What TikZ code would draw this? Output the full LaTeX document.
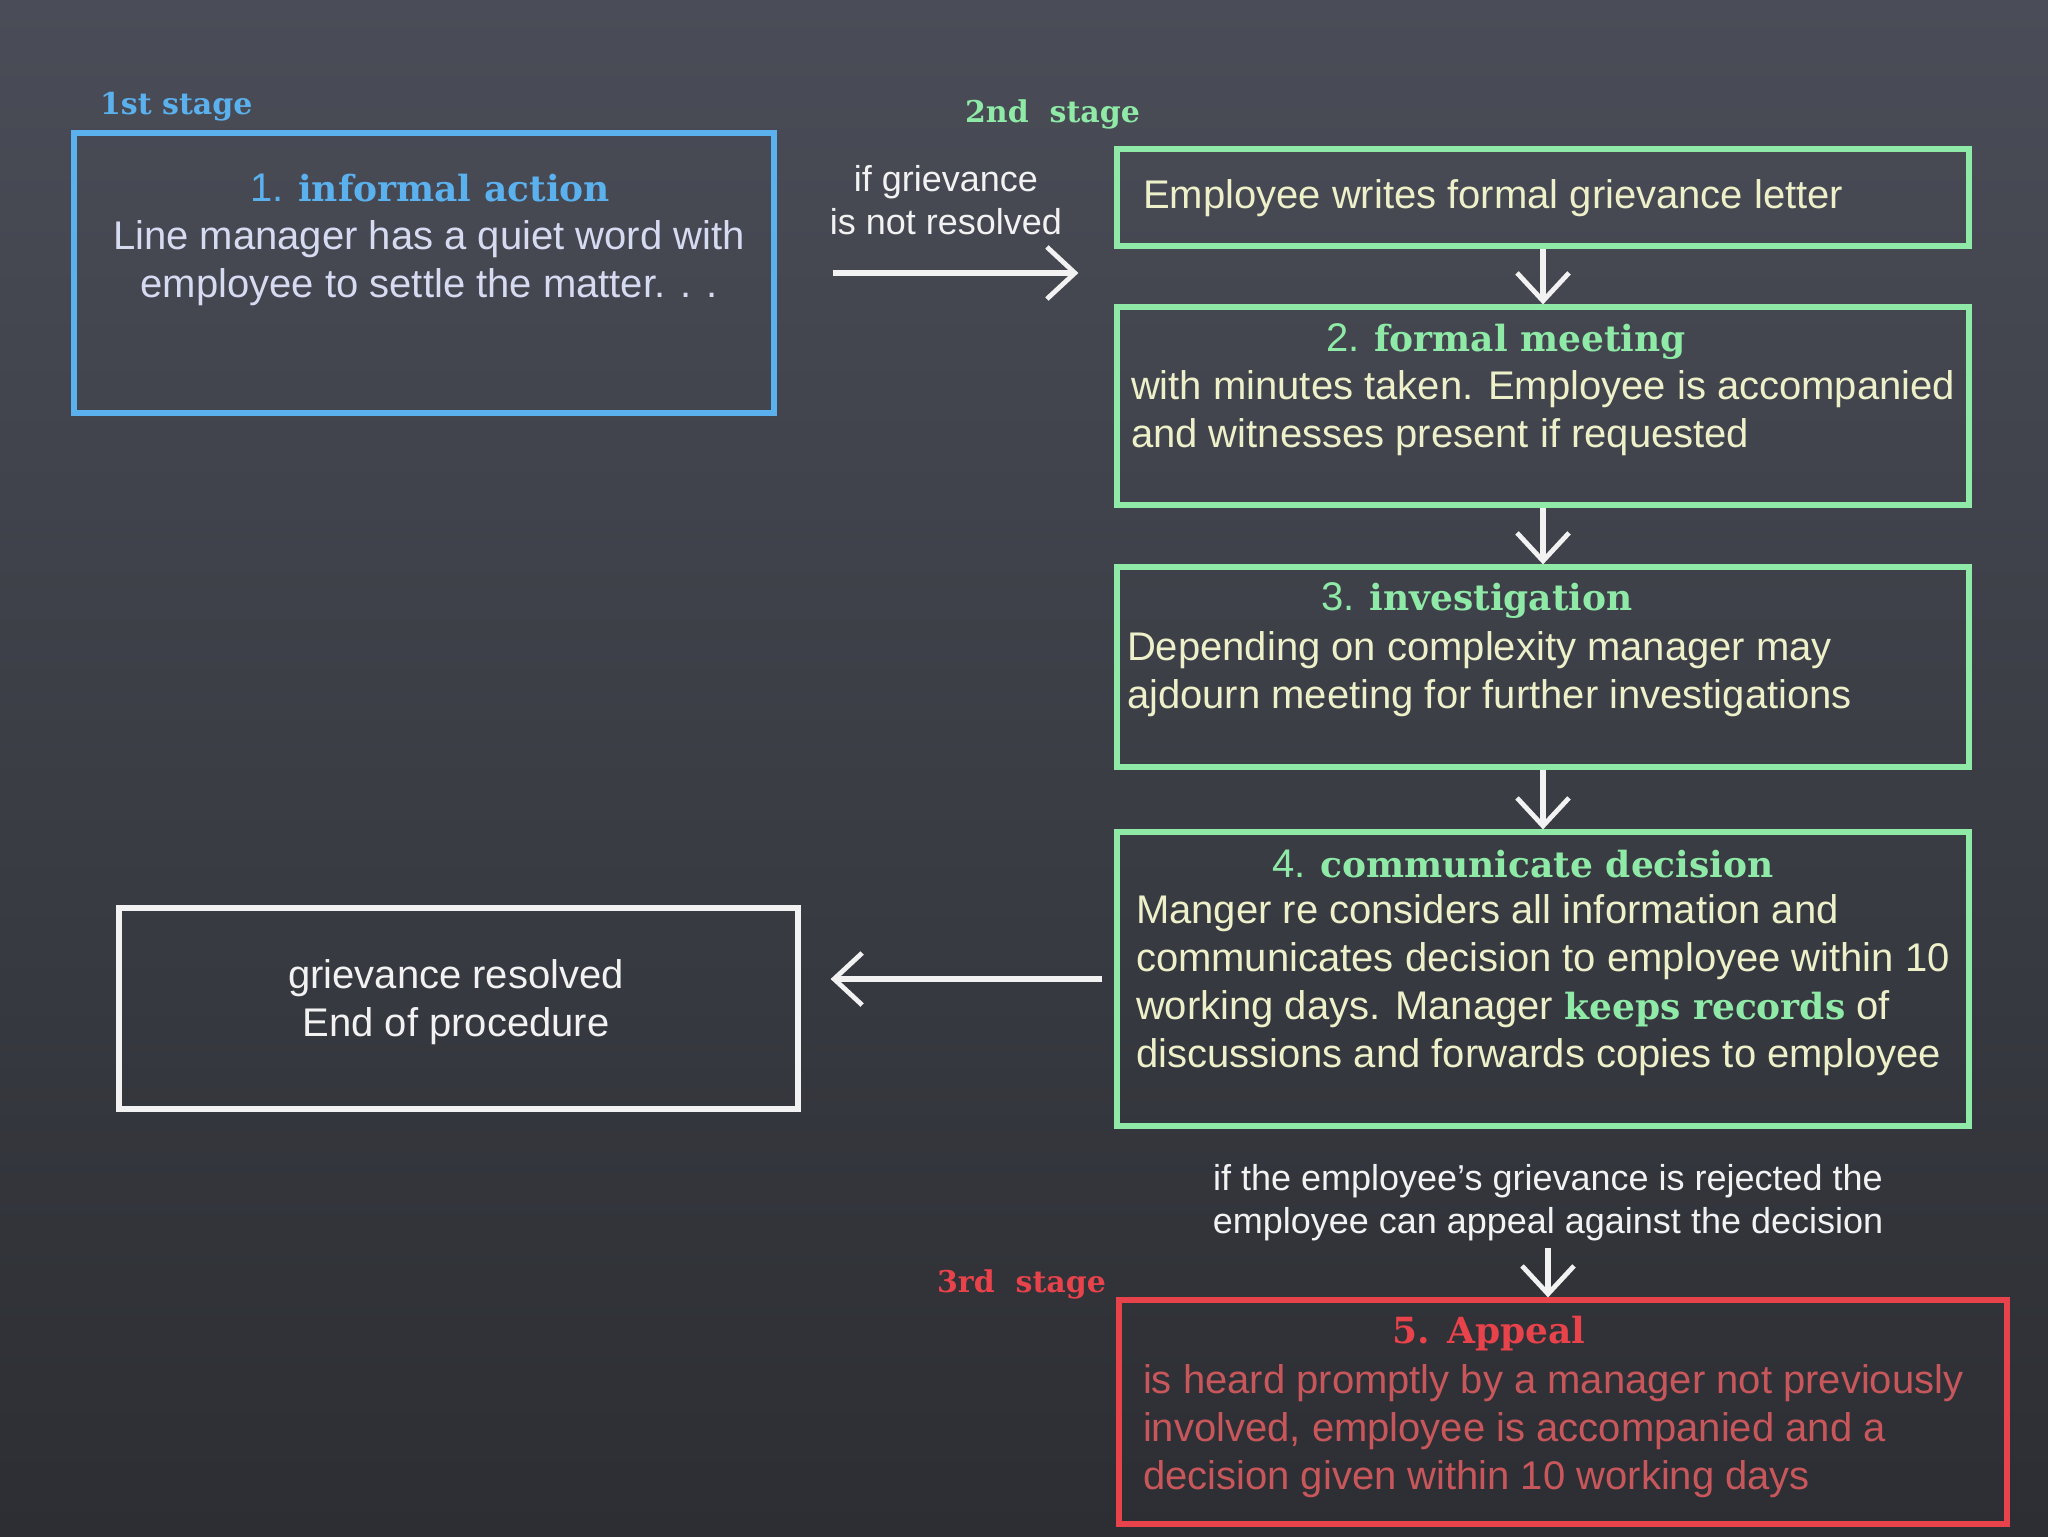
\documentclass[tikz,border=0pt]{standalone}
\usepackage{fontspec}
\setmainfont{Liberation Sans}
\newfontfamily\stagefont{DejaVu Serif}
\usetikzlibrary{arrows.meta, positioning, calc}
\usepackage{xcolor}
\definecolor{BoardTop}{HTML}{4A4D57}
\definecolor{BoardBottom}{HTML}{2C2E33}
\definecolor{ChalkWhite}{HTML}{F2F2F2}
\definecolor{ChalkBlue}{HTML}{5BB0EE}
\definecolor{ChalkBlueText}{HTML}{D6DBF2}
\definecolor{ChalkGreen}{HTML}{8EEAA6}
\definecolor{ChalkGreenText}{HTML}{EDF0C8}
\definecolor{ChalkRed}{HTML}{E8424B}
\definecolor{ChalkRedText}{HTML}{C8575B}
\tikzset{
    % Chalk boxes - all sharp corners
    stagebox/.style={
        rectangle,
        line width=2.6pt,
        inner sep=0pt
    },
    bluebox/.style={stagebox, draw=ChalkBlue},
    greenbox/.style={stagebox, draw=ChalkGreen},
    redbox/.style={stagebox, draw=ChalkRed},
    whitebox/.style={stagebox, draw=ChalkWhite},
    % Texts
    stagelabel/.style={
        anchor=west,
        font=\stagefont\bfseries\fontsize{15}{18}\selectfont
    },
    titletext/.style={
        font=\fontsize{20}{24}\selectfont
    },
    bodytext/.style={
        font=\fontsize{20}{24}\selectfont,
        align=left,
        anchor=west
    },
    notetext/.style={
        font=\fontsize{18}{21.5}\selectfont,
        text=ChalkWhite,
        align=center
    },
    % Chalk arrows
    chalkarrow/.style={
        -{Straight Barb[length=14pt,width=26pt,line width=2.4pt]},
        line width=2.6pt,
        draw=ChalkWhite
    }
}
\newcommand{\serifpart}[1]{{\stagefont\bfseries\fontsize{18}{20}\selectfont #1}}

\begin{document}
\begin{tikzpicture}[x=0.5pt, y=-0.5pt]
    \fill[top color=BoardTop, bottom color=BoardBottom] (0,0) rectangle (2048,1536);

    % 1st stage
    \node[stagelabel, text=ChalkBlue] (stageone) at (93,107) {1st stage};
    \node[bluebox, minimum width=350pt, minimum height=140pt] (informal) at (424,273) {};
    \node[titletext, text=ChalkBlue] (informaltitle) at (430,188) {1. \serifpart{informal action}};
    \node[titletext, text=ChalkBlueText, align=center] (informalbody) at (429,263)
        {Line manager has a quiet word with\\employee to settle the matter. . .};

    % 2nd stage
    \node[stagelabel, text=ChalkGreen] (stagetwo) at (958,114) {2nd\ \ stage};
    \node[notetext] (notresolved) at (946,200) {if grievance\\is not resolved};

    \node[greenbox, minimum width=426pt, minimum height=48.5pt] (letter) at (1543,197.5) {};
    \node[bodytext, text=ChalkGreenText] (lettertext) at (1136,198) {Employee writes formal grievance letter};

    \node[greenbox, minimum width=426pt, minimum height=99pt] (meeting) at (1543,406) {};
    \node[titletext, text=ChalkGreen] (meetingtitle) at (1506,342) {2. \serifpart{formal meeting}};
    \node[bodytext, text=ChalkGreenText] (meetingbody) at (1124,413)
        {with minutes taken. Employee is accompanied\\and witnesses present if requested};

    \node[greenbox, minimum width=426pt, minimum height=100pt] (investigation) at (1543,667) {};
    \node[titletext, text=ChalkGreen] (investigationtitle) at (1477,601) {3. \serifpart{investigation}};
    \node[bodytext, text=ChalkGreenText] (investigationbody) at (1120,674)
        {Depending on complexity manager may\\ajdourn meeting for further investigations};

    \node[greenbox, minimum width=426pt, minimum height=147pt] (decision) at (1543,979) {};
    \node[titletext, text=ChalkGreen] (decisiontitle) at (1523,864) {4. \serifpart{communicate decision}};
    \node[bodytext, text=ChalkGreenText] (decisionbody) at (1129,985)
        {Manger re considers all information and\\communicates decision to employee within 10\\working days. Manager {\color{ChalkGreen}\serifpart{keeps records}} of\\discussions and forwards copies to employee};

    % End of procedure
    \node[whitebox, minimum width=339.5pt, minimum height=100.5pt] (resolved) at (458.5,1008.5) {};
    \node[titletext, text=ChalkWhite, align=center] (resolvedtext) at (456,1002) {grievance resolved\\End of procedure};

    % 3rd stage
    \node[notetext] (appealnote) at (1548,1203)
        {if the employee's grievance is rejected the\\employee can appeal against the decision};
    \node[stagelabel, text=ChalkRed] (stagethree) at (930,1284) {3rd\ \ stage};
    \node[redbox, minimum width=444pt, minimum height=112pt] (appeal) at (1563,1412) {};
    \node[titletext, text=ChalkRed] (appealtitle) at (1489,1334) {\serifpart{5. Appeal}};
    \node[bodytext, text=ChalkRedText] (appealbody) at (1136,1431)
        {is heard promptly by a manager not previously\\involved, employee is accompanied and a\\decision given within 10 working days};

    % Connectors
    \draw[chalkarrow, shorten <=28pt, shorten >=18pt] (informal.east) -- (informal.east -| letter.west);
    \draw[chalkarrow] (letter.south) -- (meeting.north);
    \draw[chalkarrow] (meeting.south) -- (investigation.north);
    \draw[chalkarrow] (investigation.south) -- (decision.north);
    \draw[chalkarrow, shorten <=6pt, shorten >=15pt] (decision.west) -- (decision.west -| resolved.east);
    \draw[chalkarrow] (appealnote.south) -- (appealnote.south |- appeal.north);
\end{tikzpicture}
\end{document}
